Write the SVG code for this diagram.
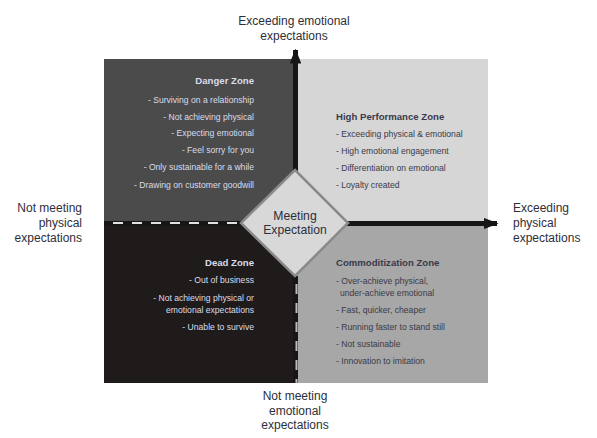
<svg xmlns="http://www.w3.org/2000/svg" width="597" height="438" viewBox="0 0 597 438">
<style>
text{font-family:"Liberation Sans",Arial,sans-serif}
.ax{font-size:12px;fill:#2e2e3a}
.t{font-size:9.6px;font-weight:bold}
.i{font-size:8.6px}
.lt{fill:#d9dcec}
.dk{fill:#3a3a4a}
.r{text-anchor:end}
.m{text-anchor:middle}
</style>
<defs>
<marker id="ah" viewBox="0 0 10 10" refX="9" refY="5" markerWidth="3" markerHeight="2.3" preserveAspectRatio="none" orient="auto" markerUnits="strokeWidth">
<path d="M0,0 L10,5 L0,10 Z" fill="#161616"/>
</marker>
</defs>
<rect width="597" height="438" fill="#ffffff"/>
<g id="danger-zone">
<rect x="104" y="59" width="191" height="163" fill="#4b4b4b"/>
<text class="t lt r" x="254" y="84">Danger Zone</text>
<text class="i lt r" x="254" y="103">- Surviving on a relationship</text>
<text class="i lt r" x="254" y="119.5">- Not achieving physical</text>
<text class="i lt r" x="254" y="136">- Expecting emotional</text>
<text class="i lt r" x="254" y="153">- Feel sorry for you</text>
<text class="i lt r" x="254" y="170">- Only sustainable for a while</text>
<text class="i lt r" x="254" y="187.5">- Drawing on customer goodwill</text>
</g>
<g id="high-performance-zone">
<rect x="295" y="59" width="193" height="164" fill="#d6d6d6"/>
<text class="t dk" x="336" y="119.5">High Performance Zone</text>
<text class="i dk" x="336" y="137">- Exceeding physical &amp; emotional</text>
<text class="i dk" x="336" y="154">- High emotional engagement</text>
<text class="i dk" x="336" y="170.5">- Differentiation on emotional</text>
<text class="i dk" x="336" y="187.5">- Loyalty created</text>
</g>
<g id="dead-zone">
<rect x="104" y="221" width="191" height="162" fill="#1f1b1b"/>
<text class="t lt r" x="254" y="265.5">Dead Zone</text>
<text class="i lt r" x="254" y="283">- Out of business</text>
<text class="i lt r" x="254" y="300.5">- Not achieving physical or</text>
<text class="i lt r" x="254" y="313">emotional expectations</text>
<text class="i lt r" x="254" y="330">- Unable to survive</text>
</g>
<g id="commoditization-zone">
<rect x="295" y="223" width="193" height="160" fill="#a7a7a7"/>
<text class="t dk" x="336" y="265.5">Commoditization Zone</text>
<text class="i dk" x="336" y="284">- Over-achieve physical,</text>
<text class="i dk" x="340" y="296">under-achieve emotional</text>
<text class="i dk" x="336" y="312.5">- Fast, quicker, cheaper</text>
<text class="i dk" x="336" y="330">- Running faster to stand still</text>
<text class="i dk" x="336" y="347">- Not sustainable</text>
<text class="i dk" x="336" y="364">- Innovation to imitation</text>
</g>
<g id="connectors">
<line x1="295.5" y1="223" x2="295.5" y2="50" stroke="#161616" stroke-width="5" marker-end="url(#ah)"/>
<line x1="295" y1="223.5" x2="497" y2="223.5" stroke="#161616" stroke-width="5" marker-end="url(#ah)"/>
<line x1="104" y1="223.5" x2="242" y2="223.5" stroke="#161616" stroke-width="5"/>
<line x1="113" y1="223" x2="242" y2="223" stroke="#e2e2e2" stroke-width="2" stroke-dasharray="10 9"/>
<line x1="295.5" y1="276" x2="295.5" y2="383" stroke="#161616" stroke-width="5"/>
<line x1="296.5" y1="284" x2="296.5" y2="383" stroke="#bdbdbd" stroke-width="2" stroke-dasharray="10 9"/>
</g>
<g id="meeting-expectation">
<path d="M295,170 L348,223 L295,276 L241,223 Z" fill="#d8d8d8" stroke="#8a8a8a" stroke-width="2.5"/>
<text class="m" x="295" y="219.5" font-size="12.2" fill="#2e2e3a">Meeting</text>
<text class="m" x="295" y="234" font-size="12.2" fill="#2e2e3a">Expectation</text>
</g>
<g id="axis-labels">
<text class="ax m" x="294" y="25">Exceeding emotional</text>
<text class="ax m" x="294" y="39.5">expectations</text>
<text class="ax r" x="82" y="212">Not meeting</text>
<text class="ax r" x="82" y="227">physical</text>
<text class="ax r" x="82" y="242">expectations</text>
<text class="ax" x="513" y="212">Exceeding</text>
<text class="ax" x="513" y="227">physical</text>
<text class="ax" x="513" y="242">expectations</text>
<text class="ax m" x="295" y="400">Not meeting</text>
<text class="ax m" x="295" y="414.5">emotional</text>
<text class="ax m" x="295" y="429">expectations</text>
</g>
</svg>
